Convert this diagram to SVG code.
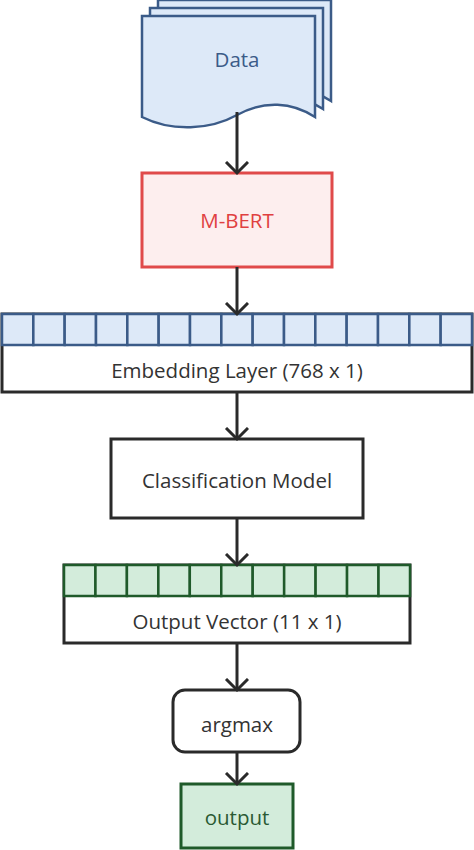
<svg xmlns="http://www.w3.org/2000/svg" width="474" height="850" viewBox="0 0 474 850">
<style>
text{font-family:"Open Sans","Noto Sans","DejaVu Sans",sans-serif;font-size:20.5px;text-anchor:middle;dominant-baseline:central}
.doc{fill:#dde9f8;stroke:#3b5b88;stroke-width:2.5}
.blk{fill:#ffffff;stroke:#2a2a2a;stroke-width:3}
.ecell{fill:#dde9f8;stroke:#3b5b88;stroke-width:2.5}
.gcell{fill:#d3ecdb;stroke:#1f5a2a;stroke-width:2.5}
.conn{stroke:#2a2a2a;stroke-width:3;fill:none}
</style>
<defs>
<path id="page" d="M0,0 H173 V101 C150,86 122,84 95,99 C68,114 30,116 0,101 Z"/>
<marker id="arr" markerUnits="userSpaceOnUse" markerWidth="30" markerHeight="30" refX="12" refY="12" orient="auto" viewBox="0 0 30 30">
<path d="M1,1 L12,12 L1,23" fill="none" stroke="#2a2a2a" stroke-width="3"/>
</marker>
</defs>
<g id="data">
<use href="#page" class="doc" x="158" y="0"/>
<use href="#page" class="doc" x="150" y="8"/>
<use href="#page" class="doc" x="142" y="16"/>
<text x="237" y="59" fill="#3b5b88">Data</text>
</g>
<g id="mbert">
<rect x="142" y="173" width="190" height="94" fill="#fdeeee" stroke="#e04a4a" stroke-width="3"/>
<text x="237" y="220" fill="#e04040">M-BERT</text>
</g>
<g id="embedding">
<rect x="2" y="314" width="470" height="78" class="blk"/>
<g class="ecell">
<rect x="2" y="314" width="31.33" height="31"/><rect x="33.33" y="314" width="31.33" height="31"/><rect x="64.67" y="314" width="31.33" height="31"/><rect x="96" y="314" width="31.33" height="31"/><rect x="127.33" y="314" width="31.33" height="31"/><rect x="158.67" y="314" width="31.33" height="31"/><rect x="190" y="314" width="31.33" height="31"/><rect x="221.33" y="314" width="31.33" height="31"/><rect x="252.67" y="314" width="31.33" height="31"/><rect x="284" y="314" width="31.33" height="31"/><rect x="315.33" y="314" width="31.33" height="31"/><rect x="346.67" y="314" width="31.33" height="31"/><rect x="378" y="314" width="31.33" height="31"/><rect x="409.33" y="314" width="31.33" height="31"/><rect x="440.67" y="314" width="31.33" height="31"/>
</g>
<text x="237" y="370" fill="#333">Embedding Layer (768 x 1)</text>
</g>
<g id="classification">
<rect x="111" y="439" width="252" height="79" class="blk"/>
<text x="237" y="480" fill="#333">Classification Model</text>
</g>
<g id="outputvector">
<rect x="64" y="565" width="346" height="78" class="blk"/>
<g class="gcell">
<rect x="64" y="565" width="31.45" height="31"/><rect x="95.45" y="565" width="31.45" height="31"/><rect x="126.9" y="565" width="31.45" height="31"/><rect x="158.35" y="565" width="31.45" height="31"/><rect x="189.8" y="565" width="31.45" height="31"/><rect x="221.25" y="565" width="31.45" height="31"/><rect x="252.7" y="565" width="31.45" height="31"/><rect x="284.15" y="565" width="31.45" height="31"/><rect x="315.6" y="565" width="31.45" height="31"/><rect x="347.05" y="565" width="31.45" height="31"/><rect x="378.5" y="565" width="31.5" height="31"/>
</g>
<text x="237" y="621" fill="#333">Output Vector (11 x 1)</text>
</g>
<g id="argmax">
<rect x="173" y="690" width="127" height="62" rx="12" class="blk"/>
<text x="237" y="724" fill="#333">argmax</text>
</g>
<g id="output">
<rect x="181" y="784" width="112" height="64" fill="#d3ecdb" stroke="#1f5a2a" stroke-width="3"/>
<text x="237" y="817" fill="#2a5a33">output</text>
</g>
<g id="connectors" class="conn">
<line x1="237" y1="112" x2="237" y2="173" marker-end="url(#arr)"/>
<line x1="237" y1="267" x2="237" y2="314" marker-end="url(#arr)"/>
<line x1="237" y1="392" x2="237" y2="439" marker-end="url(#arr)"/>
<line x1="237" y1="518" x2="237" y2="565" marker-end="url(#arr)"/>
<line x1="237" y1="643" x2="237" y2="690" marker-end="url(#arr)"/>
<line x1="237" y1="752" x2="237" y2="784" marker-end="url(#arr)"/>
</g>
</svg>
